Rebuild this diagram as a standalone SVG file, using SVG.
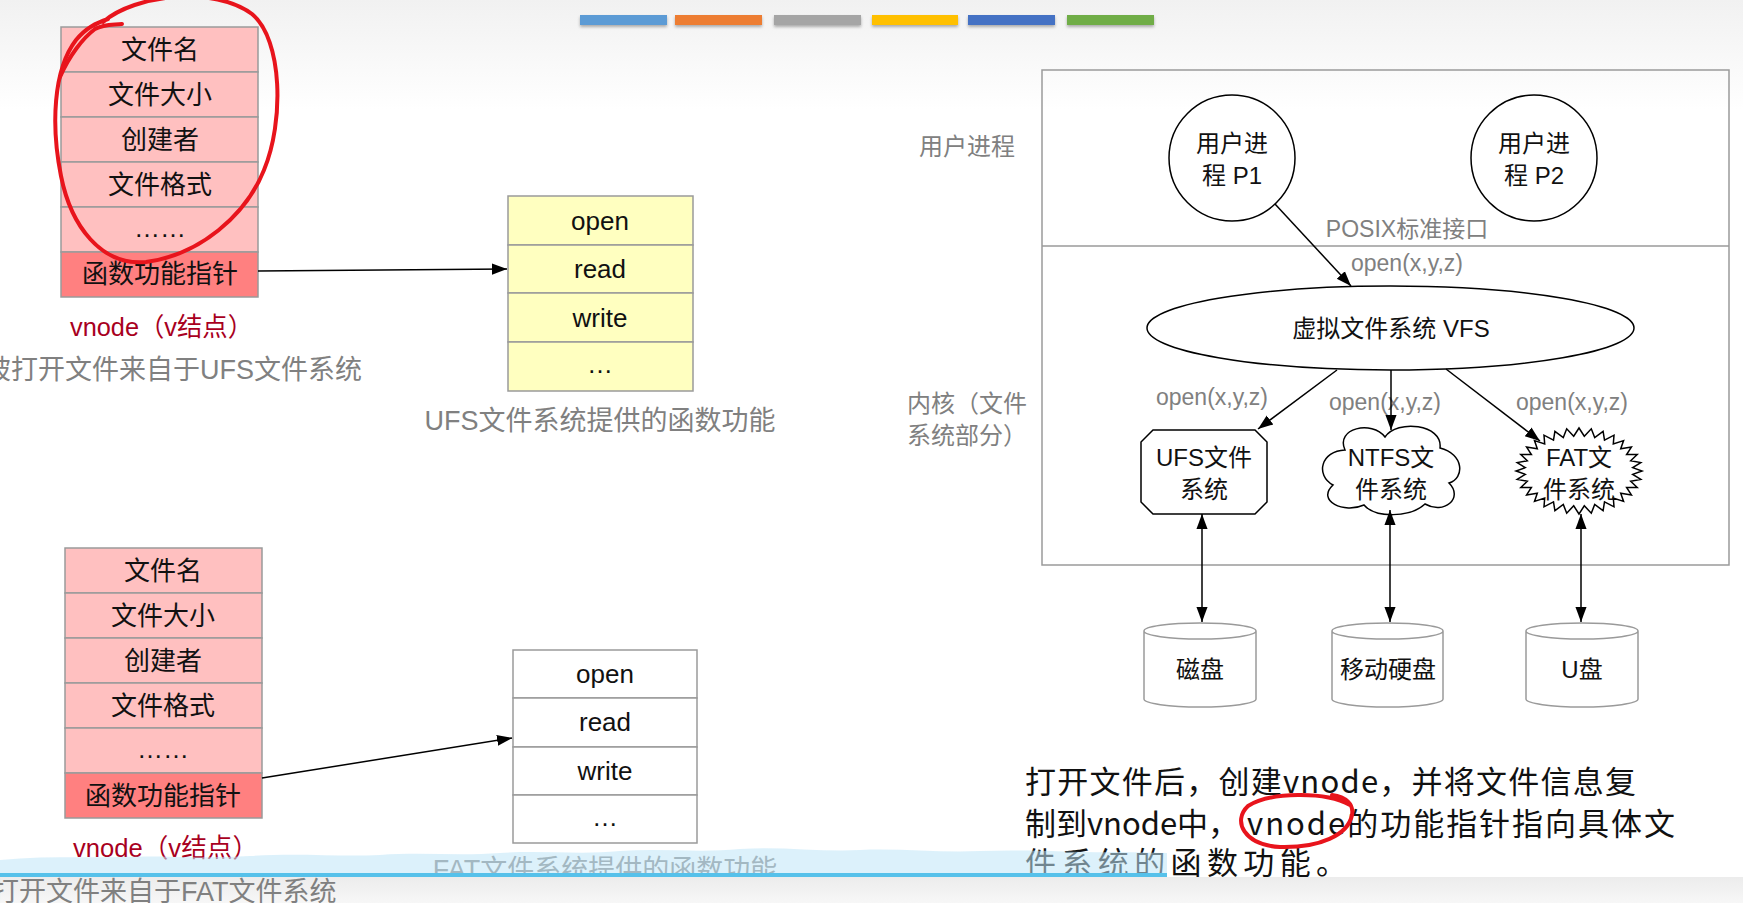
<svg xmlns="http://www.w3.org/2000/svg" width="1743" height="903" viewBox="0 0 1743 903">
<defs>
<linearGradient id="topbg" x1="0" y1="0" x2="0" y2="1">
<stop offset="0" stop-color="#f1f1f1"/><stop offset="1" stop-color="#ffffff"/>
</linearGradient>
<linearGradient id="botbg" x1="0" y1="0" x2="0" y2="1">
<stop offset="0" stop-color="#ececec"/><stop offset="1" stop-color="#f7f7f7"/>
</linearGradient>
<marker id="ah" viewBox="0 0 10 10" refX="10" refY="5" markerWidth="15" markerHeight="15" markerUnits="userSpaceOnUse" orient="auto-start-reverse">
<path d="M0,1.3 L10,5 L0,8.7 Z" fill="#000"/>
</marker>
<filter id="sh" x="-10%" y="-50%" width="120%" height="250%">
<feDropShadow dx="0" dy="2" stdDeviation="1.5" flood-color="#000" flood-opacity="0.3"/>
</filter>
</defs>
<style>
.t{font-family:"Liberation Sans","Noto Sans CJK SC",sans-serif;dominant-baseline:central;text-anchor:middle;}
.tb{fill:#111;font-size:26px;}
.g{fill:#808080;}
.cap{font-size:27px;}
.lab{font-size:23px;}
.nd{font-size:24px;fill:#111;}
.vn{fill:#a8001e;font-size:26px;text-anchor:start;}
.row{fill:#ffc0c0;stroke:#9a9a9a;stroke-width:1.5;}
.rowd{fill:#ff8080;stroke:#9a9a9a;stroke-width:1.5;}
.yrow{fill:#ffffc0;stroke:#9a9a9a;stroke-width:1.5;}
.wrow{fill:#ffffff;stroke:#9a9a9a;stroke-width:1.5;}
.shape{fill:#fff;stroke:#000;stroke-width:1.5;}
.cyl{fill:#fff;stroke:#9a9a9a;stroke-width:1.5;}
.ln{stroke:#000;stroke-width:1.5;fill:none;}
.red{stroke:#e8141c;stroke-width:4;fill:none;stroke-linecap:round;stroke-linejoin:round;}
.para{font-family:"Noto Sans CJK SC","DejaVu Sans",sans-serif;font-size:31px;fill:#111;dominant-baseline:central;}
</style>
<rect x="0" y="0" width="1743" height="903" fill="#fff"/>
<rect x="0" y="0" width="1743" height="110" fill="url(#topbg)"/>

<g id="colorbar">
<rect x="580" y="15" width="87" height="10" fill="#5b9bd5" filter="url(#sh)"/>
<rect x="675" y="15" width="87" height="10" fill="#ed7d31" filter="url(#sh)"/>
<rect x="774" y="15" width="87" height="10" fill="#a5a5a5" filter="url(#sh)"/>
<rect x="872" y="15" width="86" height="10" fill="#ffc000" filter="url(#sh)"/>
<rect x="968" y="15" width="87" height="10" fill="#4472c4" filter="url(#sh)"/>
<rect x="1067" y="15" width="87" height="10" fill="#70ad47" filter="url(#sh)"/>
</g>

<g id="vnode1">
<rect class="row" x="61" y="27" width="197" height="45"/>
<rect class="row" x="61" y="72" width="197" height="45"/>
<rect class="row" x="61" y="117" width="197" height="45"/>
<rect class="row" x="61" y="162" width="197" height="45"/>
<rect class="row" x="61" y="207" width="197" height="45"/>
<rect class="rowd" x="61" y="252" width="197" height="45"/>
<text class="t tb" x="160" y="50">文件名</text>
<text class="t tb" x="160" y="95">文件大小</text>
<text class="t tb" x="160" y="140">创建者</text>
<text class="t tb" x="160" y="185">文件格式</text>
<text class="t tb" x="160" y="228">……</text>
<text class="t tb" x="160" y="274">函数功能指针</text>
<text class="t vn" x="70" y="327" textLength="183" lengthAdjust="spacingAndGlyphs">vnode（v结点）</text>
<text class="t g cap" x="-16" y="370" style="text-anchor:start">被打开文件来自于UFS文件系统</text>
</g>

<g id="ufsfuncs">
<rect class="yrow" x="508" y="196" width="185" height="49"/>
<rect class="yrow" x="508" y="245" width="185" height="48"/>
<rect class="yrow" x="508" y="293" width="185" height="49"/>
<rect class="yrow" x="508" y="342" width="185" height="49"/>
<text class="t tb" x="600" y="221">open</text>
<text class="t tb" x="600" y="269">read</text>
<text class="t tb" x="600" y="318">write</text>
<text class="t tb" x="600" y="364">…</text>
<text class="t g cap" x="600" y="421">UFS文件系统提供的函数功能</text>
</g>

<g id="vnode2">
<rect class="row" x="65" y="548" width="197" height="45"/>
<rect class="row" x="65" y="593" width="197" height="45"/>
<rect class="row" x="65" y="638" width="197" height="45"/>
<rect class="row" x="65" y="683" width="197" height="45"/>
<rect class="row" x="65" y="728" width="197" height="45"/>
<rect class="rowd" x="65" y="773" width="197" height="45"/>
<text class="t tb" x="163" y="571">文件名</text>
<text class="t tb" x="163" y="616">文件大小</text>
<text class="t tb" x="163" y="661">创建者</text>
<text class="t tb" x="163" y="706">文件格式</text>
<text class="t tb" x="163" y="749">……</text>
<text class="t tb" x="163" y="796">函数功能指针</text>
<text class="t vn" x="73" y="848" textLength="185" lengthAdjust="spacingAndGlyphs">vnode（v结点）</text>
</g>

<g id="fatfuncs">
<rect class="wrow" x="513" y="650" width="184" height="48"/>
<rect class="wrow" x="513" y="698" width="184" height="49"/>
<rect class="wrow" x="513" y="747" width="184" height="48"/>
<rect class="wrow" x="513" y="795" width="184" height="48"/>
<text class="t tb" x="605" y="674">open</text>
<text class="t tb" x="605" y="722">read</text>
<text class="t tb" x="605" y="771">write</text>
<text class="t tb" x="605" y="817">…</text>
</g>

<g id="frame">
<rect x="1042" y="70" width="687" height="495" fill="none" stroke="#9a9a9a" stroke-width="1.5"/>
<line x1="1042" y1="246" x2="1729" y2="246" stroke="#9a9a9a" stroke-width="1.5"/>
<text class="t g lab" x="967" y="146" style="font-size:24px">用户进程</text>
<text class="t g lab" x="907" y="403" style="text-anchor:start;font-size:24px">内核（文件</text>
<text class="t g lab" x="907" y="435" style="text-anchor:start;font-size:24px">系统部分）</text>
<text class="t g lab" x="1407" y="229">POSIX标准接口</text>
<text class="t g lab" x="1407" y="263">open(x,y,z)</text>
<text class="t g lab" x="1212" y="397">open(x,y,z)</text>
<text class="t g lab" x="1385" y="402">open(x,y,z)</text>
<text class="t g lab" x="1572" y="402">open(x,y,z)</text>
</g>

<g id="p1">
<circle class="shape" cx="1232" cy="158" r="63"/>
<text class="t nd" x="1232" y="143">用户进</text>
<text class="t nd" x="1232" y="175">程 P1</text>
</g>
<g id="p2">
<circle class="shape" cx="1534" cy="158" r="63"/>
<text class="t nd" x="1534" y="143">用户进</text>
<text class="t nd" x="1534" y="175">程 P2</text>
</g>
<g id="vfs">
<ellipse class="shape" cx="1390.5" cy="328" rx="243.5" ry="42"/>
<text class="t nd" x="1391" y="328">虚拟文件系统 VFS</text>
</g>
<g id="ufs">
<polygon class="shape" points="1153,430 1255,430 1267,442 1267,502 1255,514 1153,514 1141,502 1141,442"/>
<text class="t nd" x="1204" y="457">UFS文件</text>
<text class="t nd" x="1204" y="489">系统</text>
</g>
<g id="ntfs">
<path class="shape" d="M1345,450 C1335,428 1372,420 1385,437 C1397,419 1443,424 1440,448 C1464,454 1465,478 1449,483 C1464,498 1444,515 1425,504 C1410,518 1375,518 1364,505 C1344,514 1316,501 1333,485 C1315,475 1321,451 1345,450 Z"/>
<text class="t nd" x="1391" y="457">NTFS文</text>
<text class="t nd" x="1391" y="489">件系统</text>
</g>
<g id="fat">
<polygon class="shape" points="1642,471 1632.7,474.4 1640.8,479.4 1630.7,481.2 1637.2,487.5 1626.6,487.5 1631.4,494.9 1620.7,493.2 1623.6,501.4 1613.3,498.1 1614,506.8 1604.5,501.9 1603.1,510.7 1594.7,504.5 1591.3,513.2 1584.3,505.8 1579,514 1573.7,505.8 1566.7,513.2 1563.3,504.5 1554.9,510.7 1553.5,501.9 1544,506.8 1544.7,498.1 1534.5,501.4 1537.3,493.2 1526.6,494.9 1531.4,487.5 1520.8,487.5 1527.3,481.2 1517.2,479.4 1525.3,474.4 1516,471 1525.3,467.6 1517.2,462.6 1527.3,460.8 1520.8,454.5 1531.4,454.5 1526.6,447.1 1537.3,448.8 1534.5,440.6 1544.7,443.9 1544,435.2 1553.5,440.1 1554.9,431.3 1563.3,437.5 1566.7,428.8 1573.7,436.2 1579,428 1584.3,436.2 1591.3,428.8 1594.7,437.5 1603.1,431.3 1604.5,440.1 1614,435.2 1613.3,443.9 1623.6,440.6 1620.7,448.8 1631.4,447.1 1626.6,454.5 1637.2,454.5 1630.7,460.8 1640.8,462.6 1632.7,467.6"/>
<text class="t nd" x="1579" y="457">FAT文</text>
<text class="t nd" x="1579" y="489">件系统</text>
</g>
<g id="disk">
<path class="cyl" d="M1144,631 A56,8 0 0 1 1256,631 V699 A56,8 0 0 1 1144,699 Z M1144,631 A56,8 0 0 0 1256,631"/>
<text class="t nd" x="1200" y="669">磁盘</text>
</g>
<g id="hdd">
<path class="cyl" d="M1332,631 A55.5,8 0 0 1 1443,631 V699 A55.5,8 0 0 1 1332,699 Z M1332,631 A55.5,8 0 0 0 1443,631"/>
<text class="t nd" x="1388" y="669">移动硬盘</text>
</g>
<g id="udisk">
<path class="cyl" d="M1526,631 A56,8 0 0 1 1638,631 V699 A56,8 0 0 1 1526,699 Z M1526,631 A56,8 0 0 0 1638,631"/>
<text class="t nd" x="1582" y="669">U盘</text>
</g>

<g id="connectors">
<line class="ln" x1="258" y1="271" x2="507" y2="269" marker-end="url(#ah)"/>
<line class="ln" x1="262" y1="778" x2="512" y2="738" marker-end="url(#ah)"/>
<line class="ln" x1="1275" y1="204" x2="1351" y2="286" marker-end="url(#ah)"/>
<line class="ln" x1="1337" y1="370" x2="1258" y2="429" marker-end="url(#ah)"/>
<line class="ln" x1="1391" y1="370" x2="1391" y2="430" marker-end="url(#ah)"/>
<line class="ln" x1="1446" y1="369" x2="1540" y2="441" marker-end="url(#ah)"/>
<line class="ln" x1="1202" y1="514" x2="1202" y2="622" marker-start="url(#ah)" marker-end="url(#ah)"/>
<line class="ln" x1="1390" y1="510" x2="1390" y2="622" marker-start="url(#ah)" marker-end="url(#ah)"/>
<line class="ln" x1="1581" y1="514" x2="1581" y2="622" marker-start="url(#ah)" marker-end="url(#ah)"/>
</g>

<g id="note">
<text class="para" x="1025" y="779" textLength="611" lengthAdjust="spacing">打开文件后，创建vnode，并将文件信息复</text>
<text class="para" x="1025" y="821" textLength="214" lengthAdjust="spacing">制到vnode中，</text>
<text class="para" x="1247" y="821" textLength="428" lengthAdjust="spacing">vnode的功能指针指向具体文</text>
<text class="para" x="1025" y="860" textLength="322" lengthAdjust="spacing">件系统的函数功能。</text>
</g>

<g id="captions-bottom">
<text class="t g cap" x="605" y="870">FAT文件系统提供的函数功能</text>
</g>

<g id="overlay">
<path d="M0,860 C40,856 80,858 120,857 C160,855 200,859 250,856 C300,853 340,857 380,855 C420,852 460,856 500,853 C540,850 580,855 620,851 C660,848 700,853 740,849 C780,846 820,852 860,850 C900,848 940,853 980,851 C1030,849 1080,853 1120,852 L1167,853 L1167,876 L0,876 Z" fill="#bfe6f7" fill-opacity="0.55"/>
<rect x="0" y="873" width="1167" height="4" fill="#56c1ea"/>
<rect x="0" y="877" width="1743" height="26" fill="url(#botbg)"/>
<text class="t g cap" x="-8" y="892" style="text-anchor:start">打开文件来自于FAT文件系统</text>
</g>

<g id="annotations">
<path class="red" d="M103,22 C135,-6 215,-14 252,14 C283,40 284,122 264,170 C246,215 200,255 146,262 C101,266 71,226 61,176 C51,126 53,70 76,40 C86,28 96,23 108,19"/>
<path class="red" d="M60,77 C69,56 83,38 95,29 C104,24 112,25 122,24"/>
<path class="red" d="M1350,805 C1325,791 1270,792 1248,806 C1232,821 1244,845 1280,847 C1320,848 1348,835 1352,815 C1354,804 1346,797 1332,795"/>
</g>
</svg>
